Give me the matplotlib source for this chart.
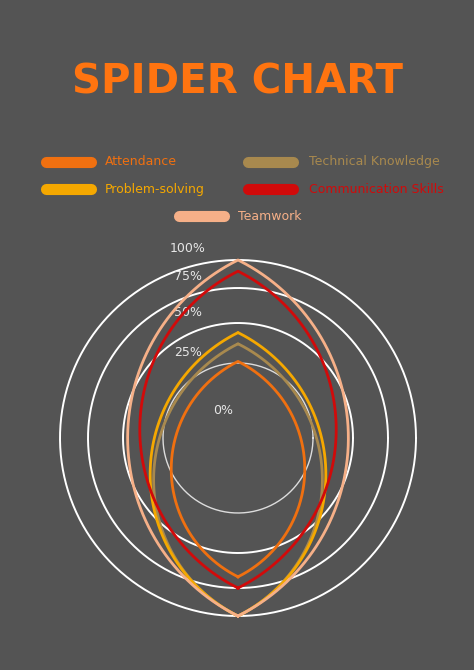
import numpy as np
import matplotlib.pyplot as plt
from matplotlib.lines import Line2D

# values (%) on the two spokes: top and bottom
series = ["Attendance", "Technical Knowledge", "Problem-solving",
          "Communication Skills", "Teamwork"]
top_vals = [26, 37, 44, 90, 100]
bottom_vals = [67, 100, 100, 75, 100]
colors = ["#f07010", "#a8894e", "#f5a800", "#d10a0a", "#f6b088"]
grid_vals = [0, 25, 50, 75, 100]
grid_radii = [0, 75, 115, 150, 178]  # radial scale is not linear in the source

BG = "#545454"


def to_r(v):
    return np.interp(v, grid_vals, grid_radii)


def lens(rt, rb, ratio=0.31):
    # two circular arcs through the top and bottom points
    h = (rt + rb) / 2.0
    s = ratio * (rt + rb)
    R = (h ** 2 + s ** 2) / (2 * s)
    cy = (rt - rb) / 2.0
    phi = np.arcsin(h / R)
    t = np.linspace(-phi, phi, 200)
    xr = (s - R) + R * np.cos(t)
    y = cy + R * np.sin(t)
    x = np.concatenate([xr, -xr[::-1]])
    y = np.concatenate([y, y[::-1]])
    return x, y


fig = plt.figure(figsize=(4.74, 6.7), dpi=100)
fig.patch.set_facecolor(BG)

fig.text(0.5, 1 - 82 / 670, "SPIDER CHART", ha="center", va="center",
         color="#ff7410", fontsize=29, fontweight="heavy",
         family="DejaVu Sans")

ax = fig.add_axes([38 / 474, (670 - 638) / 670, 400 / 474, 400 / 670])
ax.set_facecolor(BG)
ax.set_xlim(-200, 200)
ax.set_ylim(-200, 200)
ax.set_aspect("equal")
ax.axis("off")

th = np.linspace(0, 2 * np.pi, 300)
for v in grid_vals[1:]:
    r = to_r(v)
    ax.plot(r * np.cos(th), r * np.sin(th), color="white",
            lw=1.4 if v > 25 else 1.0, alpha=1 if v > 25 else 0.8)
for v in grid_vals:
    r = to_r(v)
    ax.text(-50 if v else -15, r + 11 if v else 27, f"{v}%",
            color="#e6e6e6", fontsize=9, ha="center", va="center")

for name, t, b, c in zip(series, top_vals, bottom_vals, colors):
    x, y = lens(to_r(t), to_r(b))
    ax.plot(x, y, color=c, lw=2, zorder=3)

# legend drawn by hand to match the layout
rows = [(46, 105, 162, 0), (248, 309, 162, 1), (46, 105, 189, 2),
        (248, 309, 189, 3), (179, 238, 216, 4)]
for hx, tx, py, i in rows:
    fig.add_artist(Line2D([hx / 474, (hx + 45) / 474],
                          [1 - py / 670, 1 - py / 670],
                          color=colors[i], lw=8, solid_capstyle="round"))
    fig.text(tx / 474, 1 - py / 670, series[i], color=colors[i],
             fontsize=9, va="center", ha="left")

fig.savefig("out.png", dpi=100, facecolor=BG)
